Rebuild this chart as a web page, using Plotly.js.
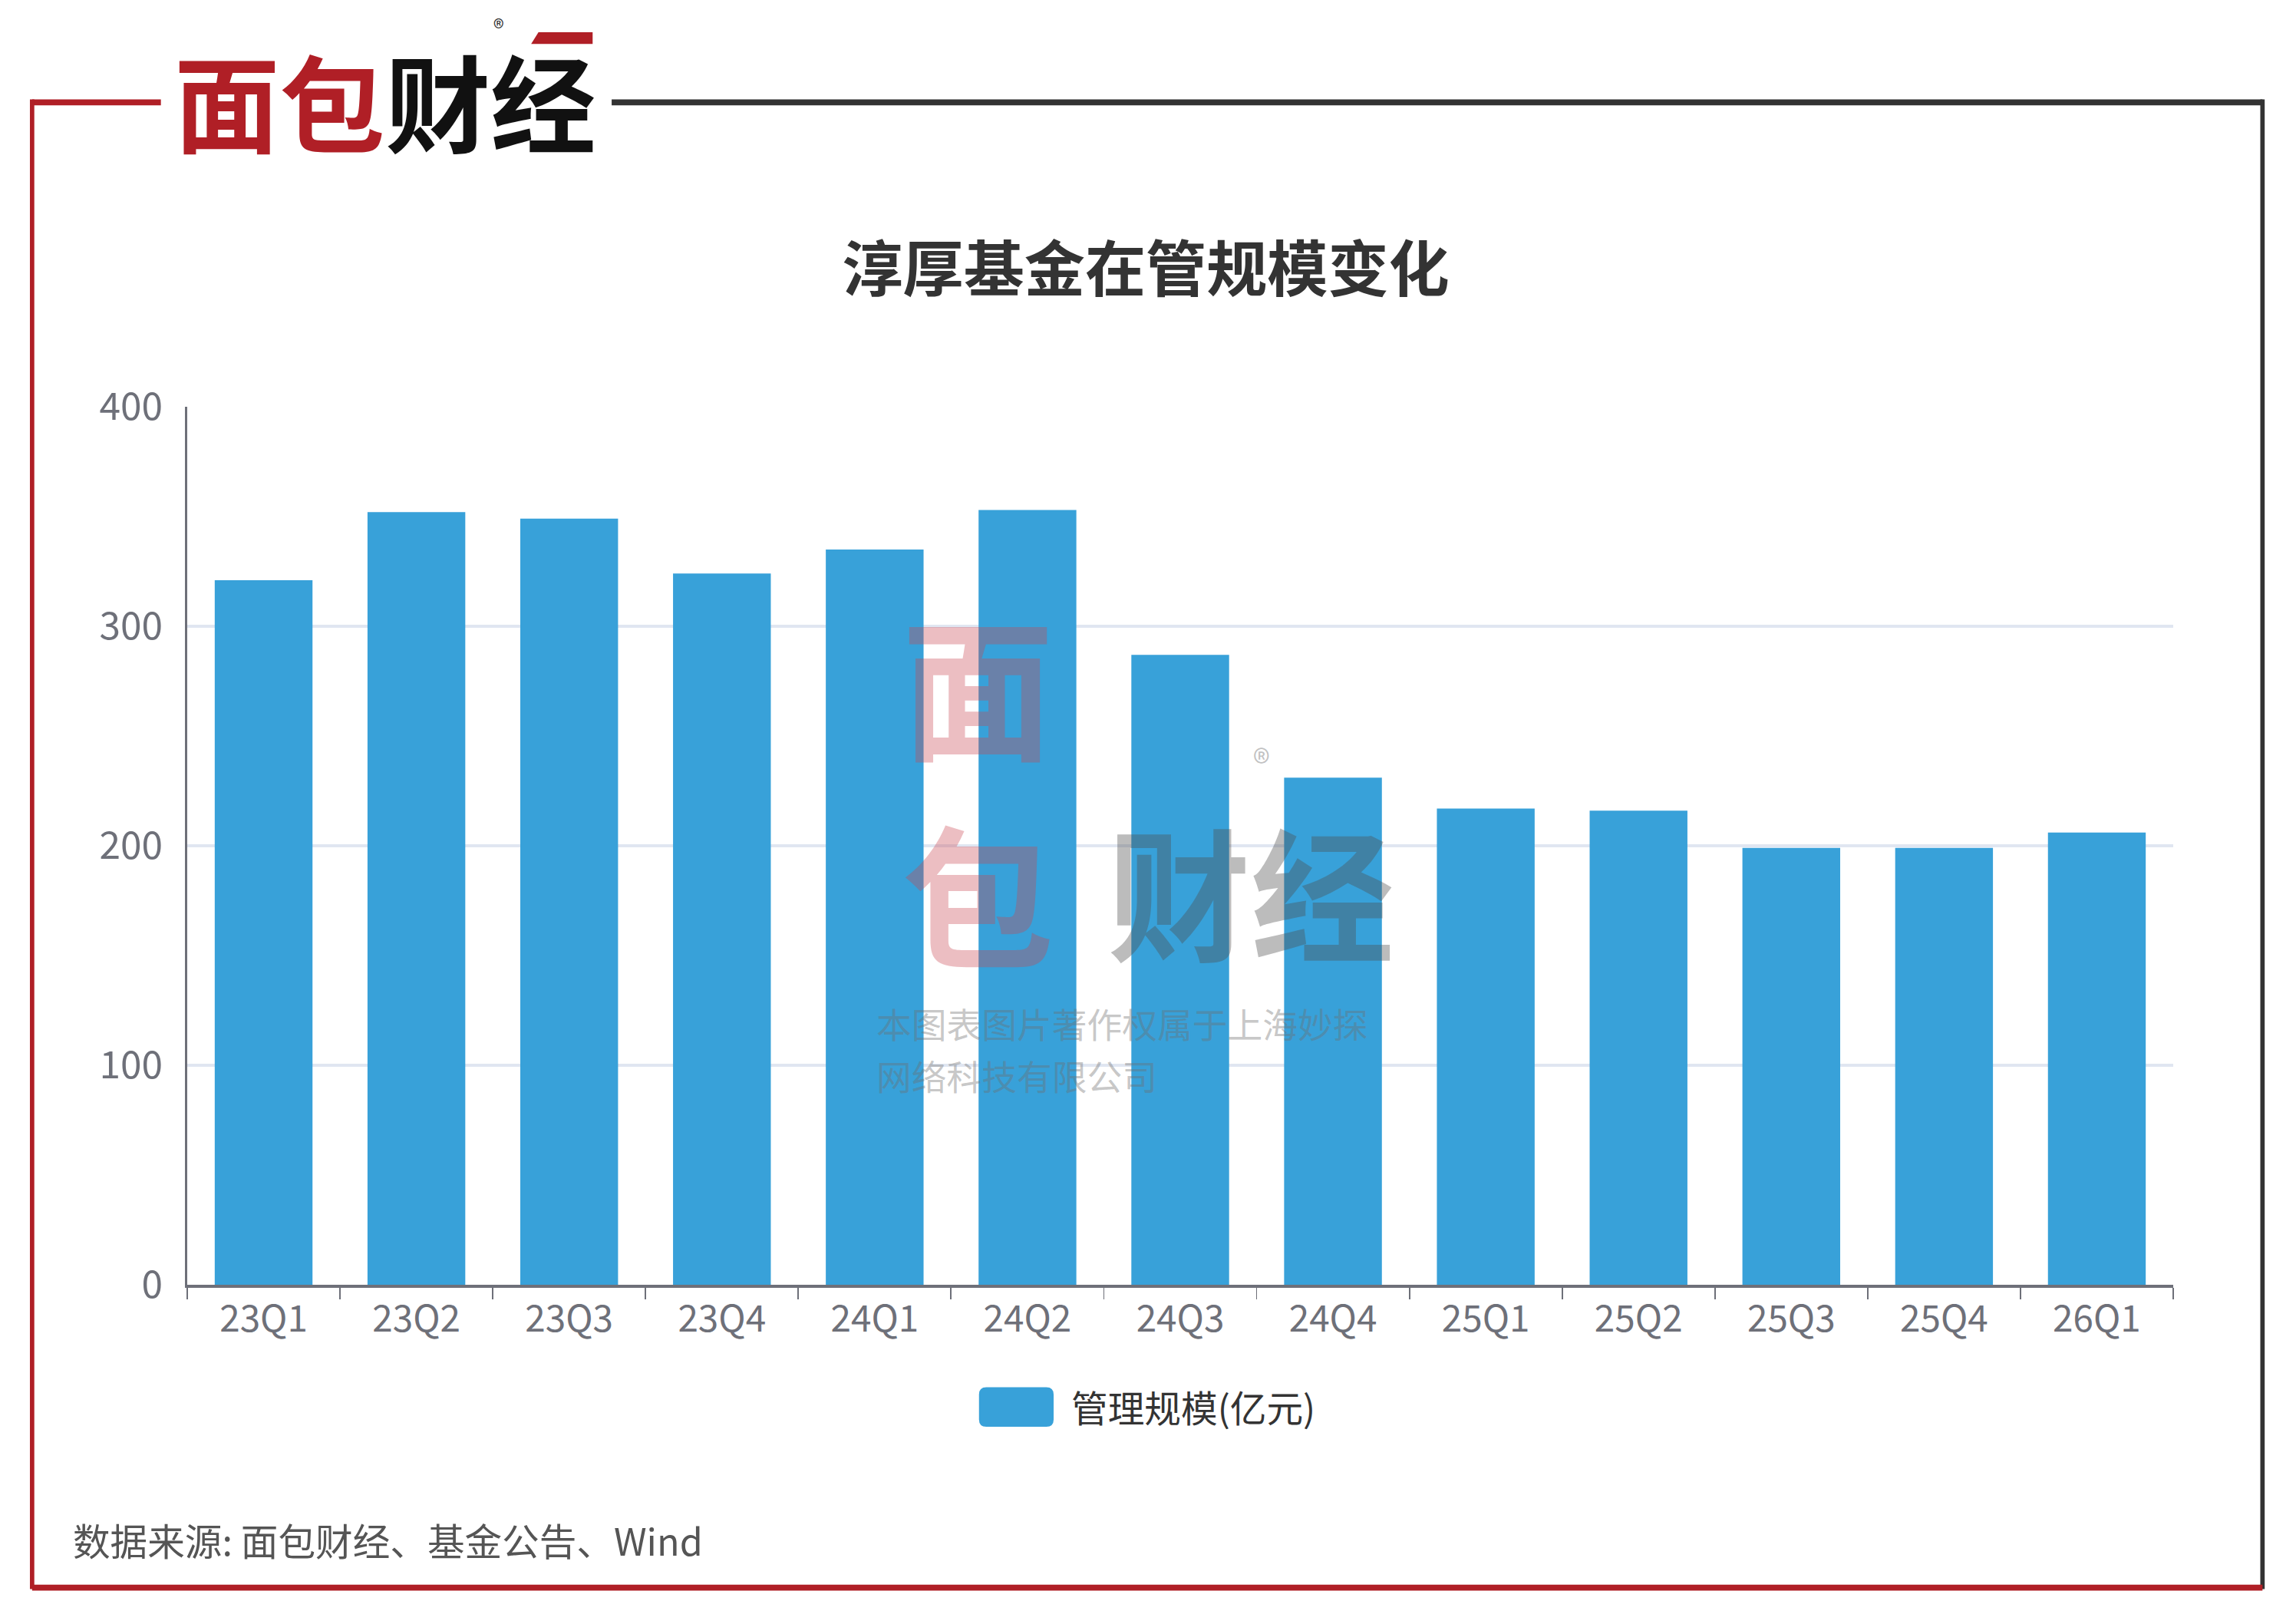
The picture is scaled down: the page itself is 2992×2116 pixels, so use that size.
<!DOCTYPE html>
<html>
<head>
<meta charset="utf-8">
<script src="https://cdn.plot.ly/plotly-3.0.1.min.js"></script>
<style>
    html, body { margin: 0; padding: 0; background: #fff; }
    #chart { width: 2992px; height: 2116px; }
</style>
</head>
<body>
<div id="chart"></div>
<script>
// data
const quarters = ["23Q1", "23Q2", "23Q3", "23Q4", "24Q1", "24Q2", "24Q3", "24Q4", "25Q1", "25Q2", "25Q3", "25Q4", "26Q1"]
const aum = [321, 352, 349, 324, 335, 353, 287, 231, 217, 216, 199, 199, 206]
const series_name = "管理规模(亿元)"
const title_text = "淳厚基金在管规模变化"
const source_text = "数据来源: 面包财经、基金公告、Wind"
const y_ticks = [0, 100, 200, 300, 400]

const W = 2992, H = 2116
const S = W / 1569  // reference was measured on a 1569 wide copy
const ML = 128 * S, MR = W - 1485 * S, MT = 278 * S, MB = H - 878 * S
const PW = W - ML - MR, PH = H - MT - MB

// measured positions -> paper coords
function fx(x) { return (x * S - ML) / PW }
function fy(y) { return (H - MB - y * S) / PH }

const FONT = "'Noto Sans CJK SC', 'Noto Sans', sans-serif"
const BAR_COLOR = "#38a1d9"
const RED = "#b01f26"

function line(x0, y0, x1, y1, color, w) {
    return {
        type: "line", xref: "paper", yref: "paper",
        x0: fx(x0), y0: fy(y0), x1: fx(x1), y1: fy(y1),
        line: {color: color, width: w},
    }
}

function note(text, x, y, size, color, opts) {
    return Object.assign({
        text: text, xref: "paper", yref: "paper",
        x: fx(x), y: fy(y), showarrow: false,
        xanchor: "left", yanchor: "middle",
        font: {family: FONT, size: size * S, color: color},
    }, opts || {})
}

// rounded rect around (cx, cy), sizes in measured px
function rounded_rect(cx, cy, w, h, r, color) {
    w *= S; h *= S; r *= S
    let a = w / 2, b = h / 2
    let p = `M ${-a + r},${-b} L ${a - r},${-b} Q ${a},${-b} ${a},${-b + r} ` +
        `L ${a},${b - r} Q ${a},${b} ${a - r},${b} L ${-a + r},${b} Q ${-a},${b} ${-a},${b - r} ` +
        `L ${-a},${-b + r} Q ${-a},${-b} ${-a + r},${-b} Z`
    return {
        type: "path", xref: "paper", yref: "paper",
        xsizemode: "pixel", ysizemode: "pixel",
        xanchor: fx(cx), yanchor: fy(cy),
        path: p, fillcolor: color, line: {width: 0},
    }
}

let data = [{
    type: "bar",
    x: quarters,
    y: aum,
    name: series_name,
    marker: {color: BAR_COLOR},
    hoverinfo: "skip",
}]

let shapes = [
    // frame
    line(22, 70, 110, 70, RED, 4 * S),
    line(418, 70, 1546, 70, "#333333", 4 * S),
    line(22, 68, 22, 1086, RED, 3 * S),
    line(1546, 68, 1546, 1086, "#333333", 3 * S),
    line(22, 1085, 1546, 1085, RED, 4 * S),
    // little red bar of the logo
    {
        type: "path", xref: "paper", yref: "paper",
        path: `M ${fx(368)},${fy(22)} L ${fx(405)},${fy(22)} L ${fx(405)},${fy(30)} L ${fx(363)},${fy(30)} Z`,
        fillcolor: RED, line: {width: 0},
    },
    // legend swatch
    rounded_rect(694.5, 961.5, 51, 27, 5, BAR_COLOR),
]

let annotations = [
    // logo
    note("<b>面包</b>", 118, 68, 72, RED),
    note("<b>财经</b>", 262, 68, 72, "#111111"),
    note("®", 341, 18, 15, "#333333", {xanchor: "center"}),
    // watermark
    note("<b>面</b>", 668, 466, 104, "rgba(200,70,80,0.35)", {xanchor: "center"}),
    note("<b>包</b>", 668, 608, 104, "rgba(200,70,80,0.35)", {xanchor: "center"}),
    note("<b>财经</b>", 855, 607, 98, "rgba(80,80,80,0.38)", {xanchor: "center"}),
    note("®", 862, 520, 24, "rgba(80,80,80,0.35)", {xanchor: "center"}),
    note("本图表图片著作权属于上海妙探", 598, 699, 24, "rgba(110,110,110,0.4)"),
    note("网络科技有限公司", 598, 735, 24, "rgba(110,110,110,0.4)"),
    // legend text
    note(series_name, 731, 961, 25, "#333333"),
    // footer
    note(source_text, 49, 1052, 25.5, "#555555"),
]

let layout = {
    width: W,
    height: H,
    margin: {l: ML, r: MR, t: MT, b: MB, pad: 0},
    paper_bgcolor: "#ffffff",
    plot_bgcolor: "#ffffff",
    showlegend: false,
    bargap: 0.36,
    font: {family: FONT, color: "#6e7079"},
    title: {
        text: title_text,
        xref: "container", yref: "container",
        x: 783 / 1569, y: 1 - 185 / 1110,
        xanchor: "center", yanchor: "middle",
        font: {family: FONT, size: 41.5 * S, color: "#333333", weight: "bold"},
    },
    xaxis: {
        type: "category",
        showline: true,
        linecolor: "#6e7079",
        linewidth: 2 * S,
        ticks: "outside",
        tickson: "boundaries",
        ticklen: 8 * S,
        tickwidth: 1 * S,
        tickcolor: "#6e7079",
        showgrid: false,
        tickfont: {family: FONT, size: 25 * S, color: "#6e7079"},
        ticklabelstandoff: 4 * S,
        fixedrange: true,
    },
    yaxis: {
        range: [0, 400],
        tickvals: y_ticks,
        showline: true,
        linecolor: "#6e7079",
        linewidth: 1.5 * S,
        // invisible ticks keep the labels away from the axis line
        ticks: "outside",
        ticklen: 10 * S,
        tickcolor: "rgba(0,0,0,0)",
        showgrid: true,
        gridcolor: "#e0e6f1",
        gridwidth: 1.6 * S,
        zeroline: false,
        tickfont: {family: FONT, size: 26 * S, color: "#6e7079"},
        fixedrange: true,
    },
    shapes: shapes,
    annotations: annotations,
}

let config = {staticPlot: true}

window.addEventListener("DOMContentLoaded", () => {
    Plotly.newPlot("chart", data, layout, config)
})
</script>
</body>
</html>
